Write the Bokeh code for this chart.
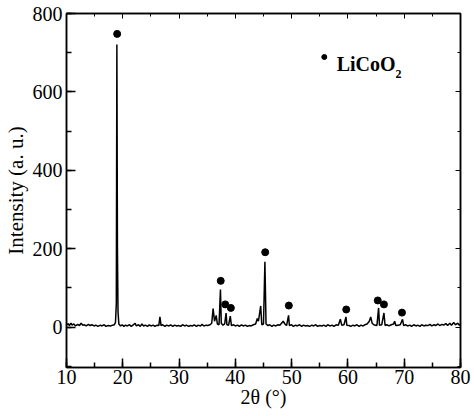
from bokeh.plotting import figure
from bokeh.models import Range1d, LinearAxis, SingleIntervalTicker, CustomJSTickFormatter
from bokeh.embed import file_html
from bokeh.resources import INLINE
from bokeh.core.properties import value

# XRD pattern (2theta in degrees, intensity a.u.)
two_theta = [
    10.0, 10.3, 10.5, 10.8, 11.0, 11.3, 11.6, 12.0, 12.3, 12.6, 12.9, 13.2, 13.5, 13.9,
    14.2, 14.5, 14.9, 15.2, 15.6, 16.0, 16.3, 16.7, 17.0, 17.4, 17.8, 18.2, 18.5, 18.7,
    18.85, 18.95, 19.05, 19.15, 19.3, 19.6, 19.9, 20.2, 20.5, 20.8, 21.2, 21.5, 21.8,
    22.2, 22.4, 22.8, 23.1, 23.4, 23.7, 24.0, 24.4, 24.7, 25.0, 25.4, 25.7, 26.1, 26.4,
    26.6, 26.8, 27.1, 27.5, 27.8, 28.2, 28.5, 28.9, 29.2, 29.6, 29.9, 30.3, 30.6, 31.0,
    31.3, 31.7, 32.0, 32.4, 32.7, 33.1, 33.4, 33.8, 34.1, 34.4, 34.8, 35.1, 35.5, 35.8,
    36.05, 36.3, 36.6, 36.8, 37.1, 37.35, 37.5, 37.8, 38.1, 38.35, 38.5, 38.8, 39.1,
    39.3, 39.7, 40.0, 40.4, 40.7, 41.1, 41.4, 41.8, 42.1, 42.5, 42.8, 43.2, 43.6, 43.9,
    44.1, 44.5, 44.7, 45.0, 45.25, 45.45, 45.8, 46.1, 46.5, 46.8, 47.2, 47.6, 47.9, 48.2,
    48.5, 48.8, 49.1, 49.45, 49.6, 50.0, 50.3, 50.7, 51.0, 51.4, 51.8, 52.1, 52.5, 52.8,
    53.2, 53.6, 53.9, 54.3, 54.6, 55.0, 55.4, 55.7, 56.1, 56.4, 56.8, 57.2, 57.5, 57.9,
    58.3, 58.65, 58.9, 59.3, 59.65, 59.8, 60.2, 60.5, 60.9, 61.2, 61.6, 62.0, 62.3, 62.7,
    63.0, 63.4, 63.8, 64.05, 64.3, 64.6, 64.9, 65.15, 65.45, 65.6, 66.0, 66.4, 66.6, 66.9,
    67.3, 67.7, 68.1, 68.3, 68.5, 68.9, 69.3, 69.7, 69.9, 70.3, 70.6, 71.0, 71.3, 71.7,
    72.1, 72.4, 72.8, 73.1, 73.5, 73.8, 74.2, 74.6, 74.9, 75.3, 75.6, 76.0, 76.3, 76.7,
    77.0, 77.4, 77.7, 78.1, 78.4, 78.8, 79.1, 79.5, 79.8, 80.0,
]
intensity = [
    6, 9, 4, 10, 5, 8, 3, 7, 4, 10, 5, 6, 3, 7,
    4, 6, 3, 5, 2, 5, 3, 6, 2, 4, 3, 5, 6, 12,
    60, 721, 200, 40, 8, 3, 6, 2, 5, 3, 6, 2, 5,
    10, 3, 6, 2, 8, 3, 5, 2, 6, 3, 5, 2, 5, 4,
    26, 4, 6, 2, 5, 3, 6, 2, 5, 3, 4, 2, 6, 3,
    5, 2, 4, 3, 6, 2, 5, 3, 7, 3, 5, 4, 6, 10,
    47, 15, 30, 8, 6, 96, 10, 5, 8, 36, 6, 5, 28,
    4, 6, 3, 5, 2, 6, 3, 5, 2, 4, 3, 6, 8, 22,
    15, 54, 6, 8, 167, 8, 4, 6, 2, 5, 3, 6, 5, 10,
    15, 8, 4, 30, 4, 6, 2, 5, 3, 6, 2, 5, 3, 4,
    2, 5, 3, 6, 2, 4, 3, 5, 2, 6, 3, 5, 2, 6,
    5, 20, 5, 6, 26, 5, 4, 2, 5, 3, 6, 2, 5, 3,
    6, 8, 15, 26, 10, 6, 5, 4, 49, 5, 6, 36, 4, 6,
    3, 6, 8, 15, 4, 5, 6, 20, 4, 6, 3, 5, 2, 6,
    3, 5, 2, 6, 3, 5, 4, 7, 3, 6, 4, 8, 4, 7,
    5, 9, 4, 10, 5, 12, 6, 10, 5, 8,
]

# LiCoO2 peak markers
marker_theta = [19.0, 37.4, 38.2, 39.2, 45.3, 49.5, 59.7, 65.3, 66.4, 69.6]
marker_int = [748, 118, 58, 49, 191, 55, 45, 68, 58, 37]

legend_label = "LiCoO"
legend_sub = "2"
x_title = "2θ (°)"
y_title = "Intensity (a. u.)"

SERIF = "Liberation Serif"

p = figure(
    width=474, height=416,
    x_range=Range1d(10, 80), y_range=Range1d(-103, 800),
    output_backend="svg", toolbar_location=None,
    min_border_left=61, min_border_right=14, min_border_top=13, min_border_bottom=49,
    x_axis_label=x_title, y_axis_label=y_title,
)
p.background_fill_color = "white"
p.border_fill_color = "white"
p.xgrid.visible = False
p.ygrid.visible = False
p.outline_line_color = "black"
p.outline_line_width = 1.5

xt = SingleIntervalTicker(interval=10, num_minor_ticks=2)
yt = SingleIntervalTicker(interval=200, num_minor_ticks=2)

for ax, tk in ((p.xaxis[0], xt), (p.yaxis[0], yt)):
    ax.ticker = tk
    ax.axis_line_width = 1.5
    ax.major_tick_in = 9
    ax.major_tick_out = 0
    ax.minor_tick_in = 5
    ax.minor_tick_out = 0
    ax.major_tick_line_width = 1.5
    ax.minor_tick_line_width = 1.5
    ax.major_label_text_font = SERIF
    ax.major_label_text_font_size = "20px"
    ax.major_label_text_color = "black"
    ax.axis_label_text_font = SERIF
    ax.axis_label_text_font_style = "normal"
    ax.axis_label_text_color = "black"

p.xaxis[0].major_label_standoff = 2
p.xaxis[0].axis_label_text_font_size = "20px"
p.xaxis[0].axis_label_standoff = -1
p.yaxis[0].major_label_standoff = 4
p.yaxis[0].axis_label_text_font_size = "21px"
p.yaxis[0].axis_label_standoff = 2

blank = CustomJSTickFormatter(code="return '';")
top = LinearAxis(ticker=SingleIntervalTicker(interval=10, num_minor_ticks=2), formatter=blank)
right = LinearAxis(ticker=SingleIntervalTicker(interval=200, num_minor_ticks=2), formatter=blank)
for ax in (top, right):
    ax.axis_line_width = 1.5
    ax.major_tick_in = 5
    ax.major_tick_out = 0
    ax.minor_tick_in = 3
    ax.minor_tick_out = 0
    ax.major_tick_line_width = 1
    ax.minor_tick_line_width = 1
    ax.major_label_standoff = 0
p.add_layout(top, "above")
p.add_layout(right, "right")

p.line(two_theta, intensity, line_color="black", line_width=1.5)
p.scatter(marker_theta, marker_int, size=7, color="black")

# legend-like annotation
p.scatter([55.8], [689], size=5, color="black")
p.text([58.0], [670], text=[legend_label], text_font=value(SERIF), text_font_size="20px",
       text_font_style="bold", text_color="black", text_baseline="alphabetic")
p.text([68.45], [646], text=[legend_sub], text_font=value(SERIF), text_font_size="12px",
       text_font_style="bold", text_color="black", text_baseline="alphabetic")

open("out.html", "w").write(file_html(p, INLINE))
